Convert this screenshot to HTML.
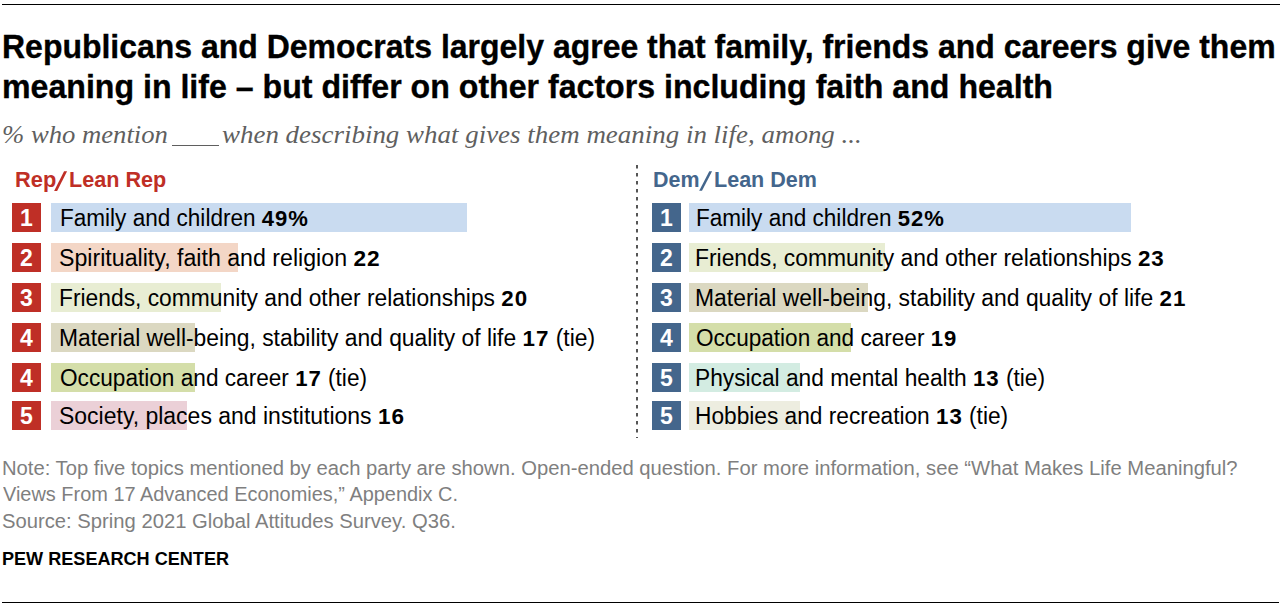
<!DOCTYPE html>
<html><head><meta charset="utf-8">
<style>
html,body{margin:0;padding:0;background:#fff;}
body{width:1280px;height:608px;position:relative;overflow:hidden;font-family:"Liberation Sans",sans-serif;color:#000;}
.a{position:absolute;white-space:nowrap;transform-origin:0 0;}
.rule{position:absolute;background:#000;}
.title{font-weight:700;font-size:34px;line-height:40px;-webkit-text-stroke:0.35px #000;}
.sub{font-family:"Liberation Serif",serif;font-style:italic;font-size:26px;color:#5f5f5f;line-height:30px;}
.hd{font-weight:700;font-size:22.4px;line-height:24px;}
.sq{position:absolute;width:29px;height:29px;color:#fff;font-weight:700;font-size:23px;line-height:30px;text-align:center;}
.r{background:#bf2f26;}
.d{background:#44668c;}
.bar{position:absolute;height:29px;}
.lbl{font-size:23px;line-height:30px;}
.lbl b{font-weight:700;font-size:22.5px;letter-spacing:1px;}
.note{font-size:20px;line-height:26px;color:#7f7f7f;}
.pew{font-weight:700;font-size:18px;line-height:24px;}
</style></head><body>
<div class="rule" style="left:2px;top:4px;width:1278px;height:1.3px"></div>
<div id="t1" class="a title" style="left:1.92px;top:25.50px;transform:scaleX(0.9405);">Republicans and Democrats largely agree that family, friends and careers give them</div>
<div id="t2" class="a title" style="left:1.51px;top:65.50px;transform:scaleX(0.9446);">meaning in life – but differ on other factors including faith and health</div>
<div id="s1" class="a sub" style="left:2.12px;top:120.00px;transform:scaleX(1.0259);">% who mention</div>
<div id="s2" class="a sub" style="left:221.50px;top:120.00px;transform:scaleX(1.0362);">when describing what gives them meaning in life, among ...</div>
<div id="h1a" class="a hd" style="left:15.02px;top:167.50px;transform:scaleX(0.9750);color:#bf2f26">Rep</div>
<div id="h1b" class="a hd" style="left:68.52px;top:167.50px;transform:scaleX(0.9648);color:#bf2f26">Lean Rep</div>
<div id="h2a" class="a hd" style="left:653.06px;top:167.50px;transform:scaleX(0.9570);color:#44668c">Dem</div>
<div id="h2b" class="a hd" style="left:714.04px;top:167.50px;transform:scaleX(0.9619);color:#44668c">Lean Dem</div>
<div id="n1" class="a note" style="left:2.09px;top:455.00px;transform:scaleX(1.0116);">Note: Top five topics mentioned by each party are shown. Open-ended question. For more information, see “What Makes Life Meaningful?</div>
<div id="n2" class="a note" style="left:3.00px;top:481.00px;transform:scaleX(0.9966);">Views From 17 Advanced Economies,” Appendix C.</div>
<div id="n3" class="a note" style="left:2.09px;top:508.00px;transform:scaleX(1.0112);">Source: Spring 2021 Global Attitudes Survey. Q36.</div>
<div id="pew" class="a pew" style="left:2.10px;top:547.00px;transform:scaleX(1.0045);">PEW RESEARCH CENTER</div>
<svg class="a" style="left:0;top:0" width="1280" height="200"><polygon points="54.1,190.9 57.1,190.9 67.1,171.2 64.1,171.2" fill="#bf2f26"/><polygon points="699.2,190.7 702,190.7 712.1,171.2 709.3,171.2" fill="#44668c"/></svg>
<div class="a" style="left:172.3px;top:145px;width:46.5px;height:1px;background:#5f5f5f"></div>
<svg class="a" style="left:636px;top:165px" width="2" height="273"><line x1="1" y1="0" x2="1" y2="273" stroke="#555" stroke-width="2" stroke-dasharray="3.5,4.5"/></svg>
<div class="sq r" style="left:12px;top:203px">1</div>
<div class="sq r" style="left:12px;top:243px">2</div>
<div class="sq r" style="left:12px;top:283px">3</div>
<div class="sq r" style="left:12px;top:323px">4</div>
<div class="sq r" style="left:12px;top:363px">4</div>
<div class="sq r" style="left:12px;top:401px">5</div>
<div class="sq d" style="left:652px;top:203px">1</div>
<div class="sq d" style="left:652px;top:243px">2</div>
<div class="sq d" style="left:652px;top:283px">3</div>
<div class="sq d" style="left:652px;top:323px">4</div>
<div class="sq d" style="left:652px;top:363px">5</div>
<div class="sq d" style="left:652px;top:401px">5</div>
<div class="bar" style="left:51px;top:203px;width:416.01px;background:#c9dbf0"></div>
<div class="bar" style="left:51px;top:243px;width:186.78px;background:#f3d6c6"></div>
<div class="bar" style="left:51px;top:283px;width:169.80px;background:#e8edd3"></div>
<div class="bar" style="left:51px;top:323px;width:144.33px;background:#dbd8c1"></div>
<div class="bar" style="left:51px;top:363px;width:144.33px;background:#d4dea9"></div>
<div class="bar" style="left:51px;top:401px;width:135.84px;background:#ebd0d7"></div>
<div class="bar" style="left:689.3px;top:203px;width:441.48px;background:#c9dbf0"></div>
<div class="bar" style="left:689.3px;top:243px;width:195.27px;background:#e8edd3"></div>
<div class="bar" style="left:689.3px;top:283px;width:178.29px;background:#dbd8c1"></div>
<div class="bar" style="left:689.3px;top:323px;width:161.31px;background:#d4dea9"></div>
<div class="bar" style="left:689.3px;top:363px;width:110.37px;background:#d3ece2"></div>
<div class="bar" style="left:689.3px;top:401px;width:110.37px;background:#edede0"></div>
<div id="L0" class="a lbl" style="left:60.01px;top:203.00px;transform:scaleX(0.9805);">Family and children <b>49%</b></div>
<div id="L1" class="a lbl" style="left:58.69px;top:243.00px;transform:scaleX(1.0072);">Spirituality, faith and religion <b>22</b></div>
<div id="L2" class="a lbl" style="left:59.22px;top:283.00px;transform:scaleX(0.9914);">Friends, community and other relationships <b>20</b></div>
<div id="L3" class="a lbl" style="left:59.42px;top:323.00px;transform:scaleX(0.9933);">Material well-being, stability and quality of life <b>17</b> (tie)</div>
<div id="L4" class="a lbl" style="left:60.31px;top:363.00px;transform:scaleX(0.9836);">Occupation and career <b>17</b> (tie)</div>
<div id="L5" class="a lbl" style="left:59.10px;top:401.00px;transform:scaleX(0.9994);">Society, places and institutions <b>16</b></div>
<div id="R0" class="a lbl" style="left:695.61px;top:203.00px;transform:scaleX(0.9805);">Family and children <b>52%</b></div>
<div id="R1" class="a lbl" style="left:694.72px;top:243.00px;transform:scaleX(0.9928);">Friends, community and other relationships <b>23</b></div>
<div id="R2" class="a lbl" style="left:694.71px;top:283.00px;transform:scaleX(0.9955);">Material well-being, stability and quality of life <b>21</b></div>
<div id="R3" class="a lbl" style="left:695.92px;top:323.00px;transform:scaleX(0.9816);">Occupation and career <b>19</b></div>
<div id="R4" class="a lbl" style="left:695.14px;top:363.00px;transform:scaleX(0.9880);">Physical and mental health <b>13</b> (tie)</div>
<div id="R5" class="a lbl" style="left:695.33px;top:401.00px;transform:scaleX(0.9871);">Hobbies and recreation <b>13</b> (tie)</div>
<div class="rule" style="left:2px;top:602px;width:1277px;height:1.3px"></div>
</body></html>
